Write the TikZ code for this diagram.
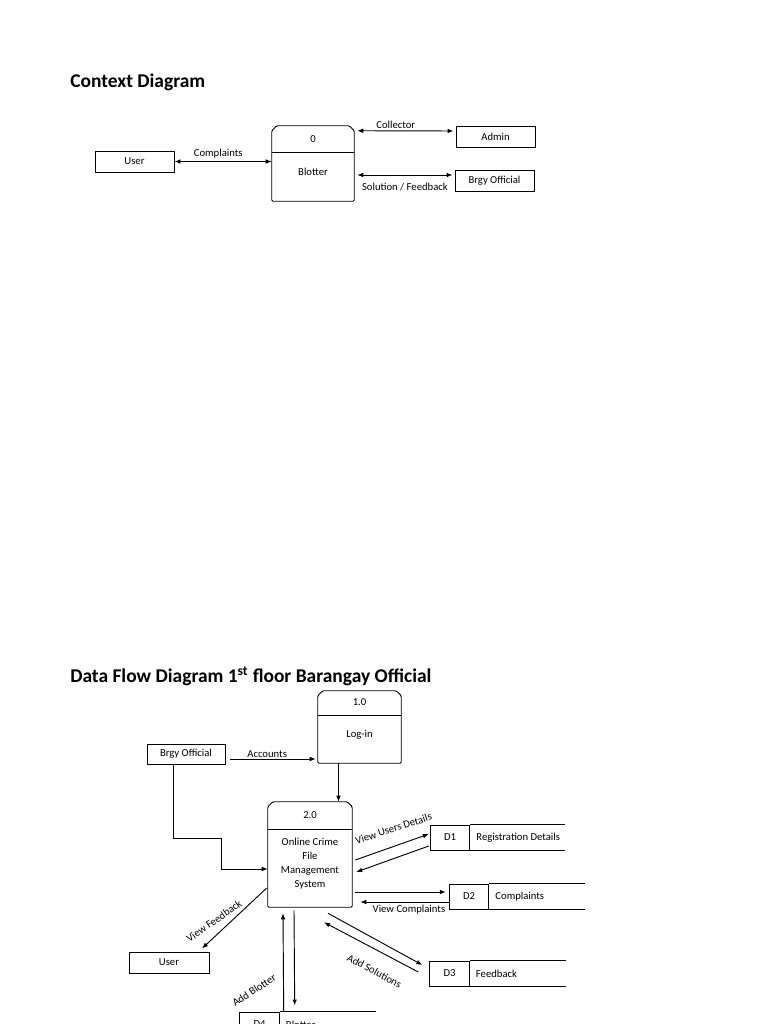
\documentclass[tikz,border=0pt]{standalone}
\usepackage{fontspec}
\setmainfont{Carlito}
\usetikzlibrary{arrows.meta, positioning, calc}
\tikzstyle{arrow} = [line width=0.7pt,-{Latex[length=4.5pt,width=3.5pt]}]
\tikzstyle{darrow} = [line width=0.7pt,{Latex[length=4.5pt,width=3.5pt]}-{Latex[length=4.5pt,width=3.5pt]}]
\tikzstyle{entity} = [rectangle, draw=black, line width=0.7pt, minimum width=59.25pt, minimum height=15.75pt, inner sep=0pt, font=\fontsize{8}{9.6}\selectfont]
\tikzstyle{process} = [rectangle, inner sep=0pt]
\tikzstyle{storeid} = [rectangle, draw=black, line width=0.7pt, minimum width=29.6pt, minimum height=18.75pt, inner sep=0pt, font=\fontsize{8}{9.6}\selectfont]
\tikzstyle{storetxt} = [rectangle, minimum height=18.75pt, inner xsep=4.5pt, inner ysep=0pt, font=\fontsize{8}{9.6}\selectfont]
\tikzstyle{lbl} = [inner sep=1pt, font=\fontsize{8}{9.6}\selectfont]
\tikzstyle{title} = [anchor=base west, inner sep=0pt, font=\fontsize{14.6}{17}\selectfont\bfseries]
% process outline: cut top corners, header line #2 px below the top
\newcommand{\procoutline}[2]{%
  \draw [line width=0.7pt, rounded corners=1pt] (#1.south west) -- ($(#1.north west)+(0,-5)$) -- ($(#1.north west)+(5,0)$)
    -- ($(#1.north east)+(-5,0)$) -- ($(#1.north east)+(0,-5)$) -- (#1.south east) -- cycle;
  \draw [line width=0.7pt] ($(#1.north west)+(0,-#2)$) -- ($(#1.north east)+(0,-#2)$);}

\begin{document}
\begin{tikzpicture}[x=0.75pt, y=0.75pt]
\clip (0,0) rectangle (768,-1024);

% context diagram
\node (ctitle) [title] at (70,-88) {Context Diagram};
\node (user) [entity] at (134.5,-161.5) {User};
\node (p0) [process, minimum width=61.5pt, minimum height=56.25pt] at (313,-163.5) {};
\procoutline{p0}{27}
\node (p0id) [lbl] at ($(p0.north)+(0,-13)$) {0};
\node (p0name) [lbl] at ($(p0.north)+(0,-46)$) {Blotter};
\node (admin) [entity] at (495.5,-136.5) {Admin};
\node (brgy) [entity] at (494.5,-180.5) {Brgy Official};
\draw [darrow] (user.east) -- node[lbl, above=1pt, pos=0.45] {Complaints} (user.east -| p0.west);
\draw [darrow] ($(p0.north east)+(3,-5)$) -- node[lbl, above, pos=0.4] {Collector} ($(admin.west)+(-2,5.5)$);
\draw [darrow] ($(p0.east)+(3,-11.5)$) -- node[lbl, below=5pt] {Solution / Feedback} ($(brgy.west)+(-2,5.5)$);

% data flow diagram
\node (dtitle) [title] at (70,-682) {Data Flow Diagram 1\textsuperscript{st} floor Barangay Official};
\node (p1) [process, minimum width=62.25pt, minimum height=54pt] at (359.5,-727) {};
\procoutline{p1}{25}
\node (p1id) [lbl] at ($(p1.north)+(0,-11)$) {1.0};
\node (p1name) [lbl] at ($(p1.north)+(0,-44)$) {Log-in};
\node (brgy2) [entity, minimum width=58.5pt, minimum height=15pt] at (186,-754) {Brgy Official};
\draw [arrow] ($(brgy2.east)+(5,-5)$) -- node[lbl, above, pos=0.43] {Accounts} ($(p1.west)+(-2,-32)$);

\node (p2) [process, minimum width=63pt, minimum height=78.75pt] at (310,-854.5) {};
\procoutline{p2}{28}
\node (p2id) [lbl] at ($(p2.north)+(0,-13)$) {2.0};
\node (p2name) [lbl, align=center, font=\fontsize{8}{10.5}\selectfont] at ($(p2.north)+(0,-61.5)$) {Online Crime\\File\\Management\\System};
\coordinate (logout) at ($(p1.south)+(-21,0)$);
\draw [arrow] (logout) -- (logout |- p2.north);
\draw [arrow] ($(brgy2.south)+(-13,0)$) -- ++(0,-74) -- ++(48,0) |- ($(p2.west)+(0,-14.5)$);

% data stores
\node (d1) [storeid] at (450,-837.5) {D1};
\node (d1txt) [storetxt, right=0pt of d1] {Registration Details};
\draw [line width=0.7pt] (d1.north east) -- ++(95,0) (d1.south east) -- ++(95,0);
\node (d2) [storeid] at (469,-896.5) {D2};
\node (d2txt) [storetxt, right=0pt of d2] {Complaints};
\draw [line width=0.7pt] (d2.north east) -- ++(96,0) (d2.south east) -- ++(96,0);
\node (d3) [storeid] at (449.5,-973.5) {D3};
\node (d3txt) [storetxt, right=0pt of d3] {Feedback};
\draw [line width=0.7pt] (d3.north east) -- ++(96,0) (d3.south east) -- ++(96,0);
\node (d4) [storeid] at (259.5,-1024.5) {D4};
\node (d4txt) [storetxt, right=0pt of d4] {Blotter};
\draw [line width=0.7pt] (d4.north east) -- ++(96,0) (d4.south east) -- ++(96,0);
\node (user2) [entity, minimum width=60pt] at (169,-962.5) {User};

% flows
\draw [arrow] ($(p2.east)+(3,-5.5)$) -- ($(d1.west)+(-1,3.5)$);
\draw [arrow] ($(d1.west)+(-1,-8.5)$) -- ($(p2.east)+(4,-17.5)$);
\node (lblusers) [lbl, rotate=18] at (393.5,-828.5) {View Users Details};
\draw [arrow] ($(p2.east)+(3,-37.5)$) -- ($(d2.west)+(-3,4.5)$);
\draw [arrow] ($(d2.west)+(0,-5.5)$) -- node[lbl, below=1pt, pos=0.45] {View Complaints} ($(p2.east)+(8,-47.5)$);
\draw [arrow] ($(p2.south)+(18,-6)$) -- ($(d3.west)+(-7,8.5)$);
\draw [arrow] ($(d3.west)+(-11,1.5)$) -- ($(p2.south)+(14,-15)$);
\node (lblsol) [lbl, rotate=-28] at (374.5,-971) {Add Solutions};
\draw [arrow] ($(p2.west)+(-1,-33.5)$) -- ($(user2.north)+(33,3)$);
\node (lblfeed) [lbl, rotate=35] at (214,-921) {View Feedback};
\draw [arrow] ($(d4.north east)+(4,0)$) -- ($(p2.south)+(-27,-6)$);
\draw [arrow] ($(p2.south)+(-16,-3)$) -- ($(d4.north east)+(15,6)$);
\node (lblblot) [lbl, rotate=33] at (254,-990) {Add Blotter};
\end{tikzpicture}
\end{document}
